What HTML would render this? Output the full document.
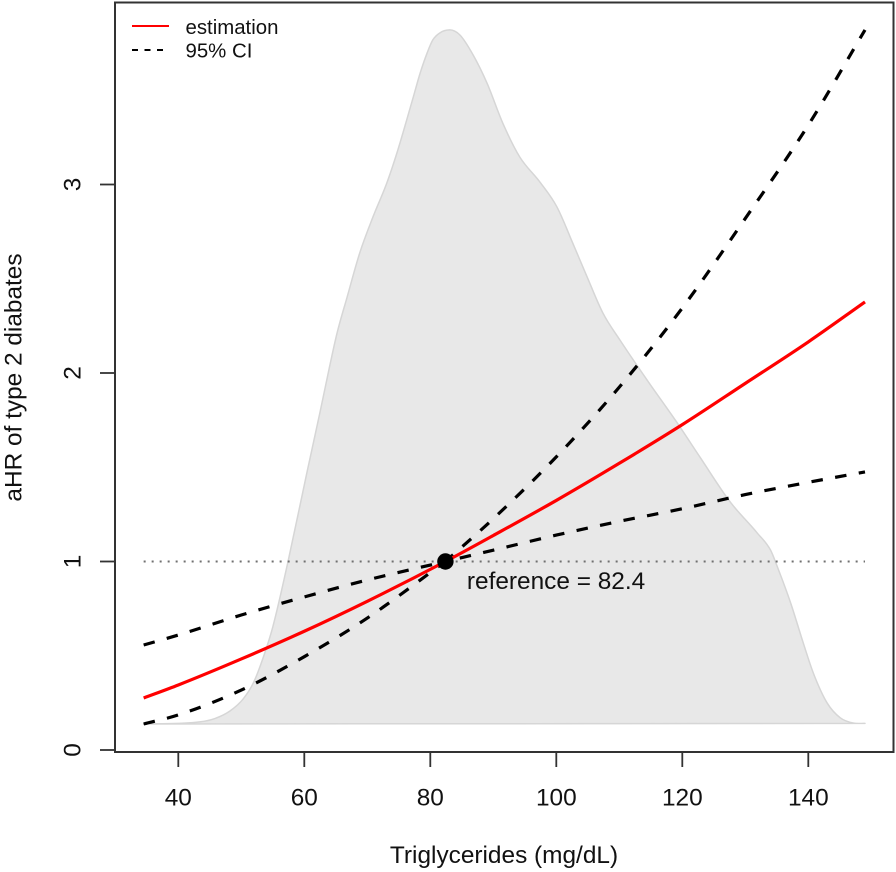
<!DOCTYPE html>
<html lang="en">
<head>
<meta charset="utf-8">
<title>aHR of type 2 diabetes by triglycerides</title>
<style>
html,body{margin:0;padding:0;background:#fff;}
svg{display:block;}
text{font-family:"Liberation Sans",sans-serif;fill:#111;}
</style>
</head>
<body>
<svg id="chart" xmlns="http://www.w3.org/2000/svg" width="896" height="872" viewBox="0 0 896 872">
  <rect x="0" y="0" width="896" height="872" fill="#fff"/>
  <g id="plot"></g>
  <rect x="115" y="2.5" width="778.5" height="749.5" fill="none" stroke="#333" stroke-width="2"/>
  <g id="axes"></g>
  <text x="504" y="863" font-size="24.4" text-anchor="middle">Triglycerides (mg/dL)</text>
  <text x="0" y="0" font-size="24.4" text-anchor="middle" transform="translate(21.5 377.5) rotate(-90)">aHR of type 2 diabates</text>
  <g>
    <line x1="132" y1="26" x2="169" y2="26" stroke="#f00" stroke-width="2"/>
    <text x="185.5" y="34" font-size="20.4">estimation</text>
    <line x1="132" y1="50" x2="164" y2="50" stroke="#000" stroke-width="2" stroke-dasharray="6 6.5"/>
    <text x="185.5" y="57.5" font-size="20.4">95% CI</text>
  </g>
</svg>
<script>
const xTicks = [40, 60, 80, 100, 120, 140];
const yTicks = [0, 1, 2, 3];

const densityX = [34.5, 43.4, 45.8, 48.2, 50.3, 51.9, 53.4, 55.0, 57.4, 60.4, 62.5, 63.9, 65.2, 66.8, 68.8, 70.9, 73.1, 74.7, 77.3, 78.4, 79.5, 80.4, 81.5, 83.1, 84.7, 86.8, 89.0, 91.5, 94.2, 97.4, 100.1, 102.6, 104.9, 107.4, 110.1, 114.4, 119.2, 122.8, 127.6, 131.9, 134.0, 135.1, 137.2, 139.2, 140.8, 143.0, 145.1, 147.1, 149.0];
const densityY = [0.138, 0.149, 0.167, 0.207, 0.271, 0.355, 0.483, 0.653, 0.997, 1.469, 1.793, 2.016, 2.212, 2.403, 2.637, 2.828, 3.008, 3.167, 3.464, 3.592, 3.698, 3.767, 3.804, 3.820, 3.793, 3.687, 3.538, 3.326, 3.146, 3.013, 2.881, 2.690, 2.509, 2.318, 2.175, 1.963, 1.735, 1.554, 1.316, 1.151, 1.061, 0.971, 0.780, 0.568, 0.408, 0.249, 0.170, 0.143, 0.141];

const curveX = [34.5, 40, 50, 60, 70, 82.4, 90, 100, 110, 120, 130, 140, 149];
const estimation = [0.276, 0.345, 0.483, 0.63, 0.789, 1, 1.138, 1.324, 1.521, 1.726, 1.945, 2.165, 2.377];
const ciUpper = [0.557, 0.61, 0.716, 0.812, 0.902, 1, 1.227, 1.555, 1.925, 2.345, 2.82, 3.315, 3.82];
const ciLower = [0.138, 0.186, 0.318, 0.495, 0.70, 1, 1.06, 1.14, 1.213, 1.28, 1.355, 1.42, 1.475];

const referenceValue = 82.4;
const referenceHR = 1;
const referenceLabel = 'reference = 82.4';

function xScale(v) { return 178.3 + (v - 40) * 6.3; }
function yScale(v) { return 750 - v * 188.5; }

const NS = 'http://www.w3.org/2000/svg';
const plot = document.getElementById('plot');
const axes = document.getElementById('axes');

function make(tag, parent, attrs) {
  const el = document.createElementNS(NS, tag);
  for (const k in attrs) el.setAttribute(k, attrs[k]);
  parent.appendChild(el);
  return el;
}

/* monotone cubic segments through the points, returned as path commands */
function monoSegments(p) {
  const n = p.length;
  const sec = [];
  for (let i = 0; i < n - 1; i++) sec.push((p[i + 1][1] - p[i][1]) / (p[i + 1][0] - p[i][0]));
  const tan = [sec[0]];
  for (let i = 1; i < n - 1; i++) {
    const a = sec[i - 1], b = sec[i];
    if (a * b <= 0) { tan.push(0); continue; }
    const h0 = p[i][0] - p[i - 1][0], h1 = p[i + 1][0] - p[i][0];
    tan.push((a * h0 + b * h1 + a * h1 + b * h0) / (2 * (h0 + h1)) * 1);
  }
  tan.push(sec[n - 2]);
  let d = '';
  for (let i = 0; i < n - 1; i++) {
    const h = (p[i + 1][0] - p[i][0]) / 3;
    d += 'C' + (p[i][0] + h).toFixed(2) + ' ' + (p[i][1] + tan[i] * h).toFixed(2) + ' ' +
      (p[i + 1][0] - h).toFixed(2) + ' ' + (p[i + 1][1] - tan[i + 1] * h).toFixed(2) + ' ' +
      p[i + 1][0].toFixed(2) + ' ' + p[i + 1][1].toFixed(2);
  }
  return d;
}

function smoothPath(xs, ys, breakX) {
  const p = xs.map((x, i) => [xScale(x), yScale(ys[i])]);
  let d = 'M' + p[0][0].toFixed(2) + ' ' + p[0][1].toFixed(2);
  const k = breakX === undefined ? -1 : xs.indexOf(breakX);
  if (k > 0 && k < xs.length - 1) {
    d += monoSegments(p.slice(0, k + 1)) + monoSegments(p.slice(k));
  } else {
    d += monoSegments(p);
  }
  return d;
}

const density = make('path', plot, {
  d: smoothPath(densityX, densityY) + 'Z',
  fill: '#e8e8e8', stroke: '#d6d6d6', 'stroke-width': 1.5, 'stroke-linejoin': 'round'
});



const refLine = make('line', plot, {
  x1: xScale(curveX[0]), x2: xScale(curveX[curveX.length - 1]),
  y1: yScale(referenceHR), y2: yScale(referenceHR),
  stroke: '#707070', 'stroke-width': 2, 'stroke-dasharray': '2 6'
});



const upperLine = make('path', plot, {
  d: smoothPath(curveX, ciUpper, referenceValue), fill: 'none', stroke: '#000',
  'stroke-width': 3.2, 'stroke-dasharray': '11.5 12.5'
});



const lowerLine = make('path', plot, {
  d: smoothPath(curveX, ciLower, referenceValue), fill: 'none', stroke: '#000',
  'stroke-width': 3.2, 'stroke-dasharray': '11.5 12.5'
});



const estLine = make('path', plot, {
  d: smoothPath(curveX, estimation), fill: 'none', stroke: '#f00', 'stroke-width': 3.2
});



const refPoint = make('circle', plot, {
  cx: xScale(referenceValue), cy: yScale(referenceHR), r: 8.2, fill: '#000'
});



const refText = make('text', plot, {
  x: xScale(referenceValue) + 21.5, y: yScale(referenceHR) + 27.5, 'font-size': 24.4
});
refText.textContent = referenceLabel;



xTicks.forEach(function (t) {
  const tick = make('line', axes, {
    x1: xScale(t), x2: xScale(t), y1: 752, y2: 767, stroke: '#333', 'stroke-width': 1.8
  });
  
  
  const label = make('text', axes, {
    x: xScale(t), y: 805.5, 'font-size': 24.4, 'text-anchor': 'middle'
  });
  label.textContent = String(t);
  
  
});

yTicks.forEach(function (t) {
  const tick = make('line', axes, {
    x1: 100, x2: 115, y1: yScale(t), y2: yScale(t), stroke: '#333', 'stroke-width': 1.8
  });
  
  
  const label = make('text', axes, {
    x: 0, y: 0, 'font-size': 24.4, 'text-anchor': 'middle',
    transform: 'translate(80.5 ' + yScale(t) + ') rotate(-90)'
  });
  label.textContent = String(t);
  
  
});
</script>
</body>
</html>
